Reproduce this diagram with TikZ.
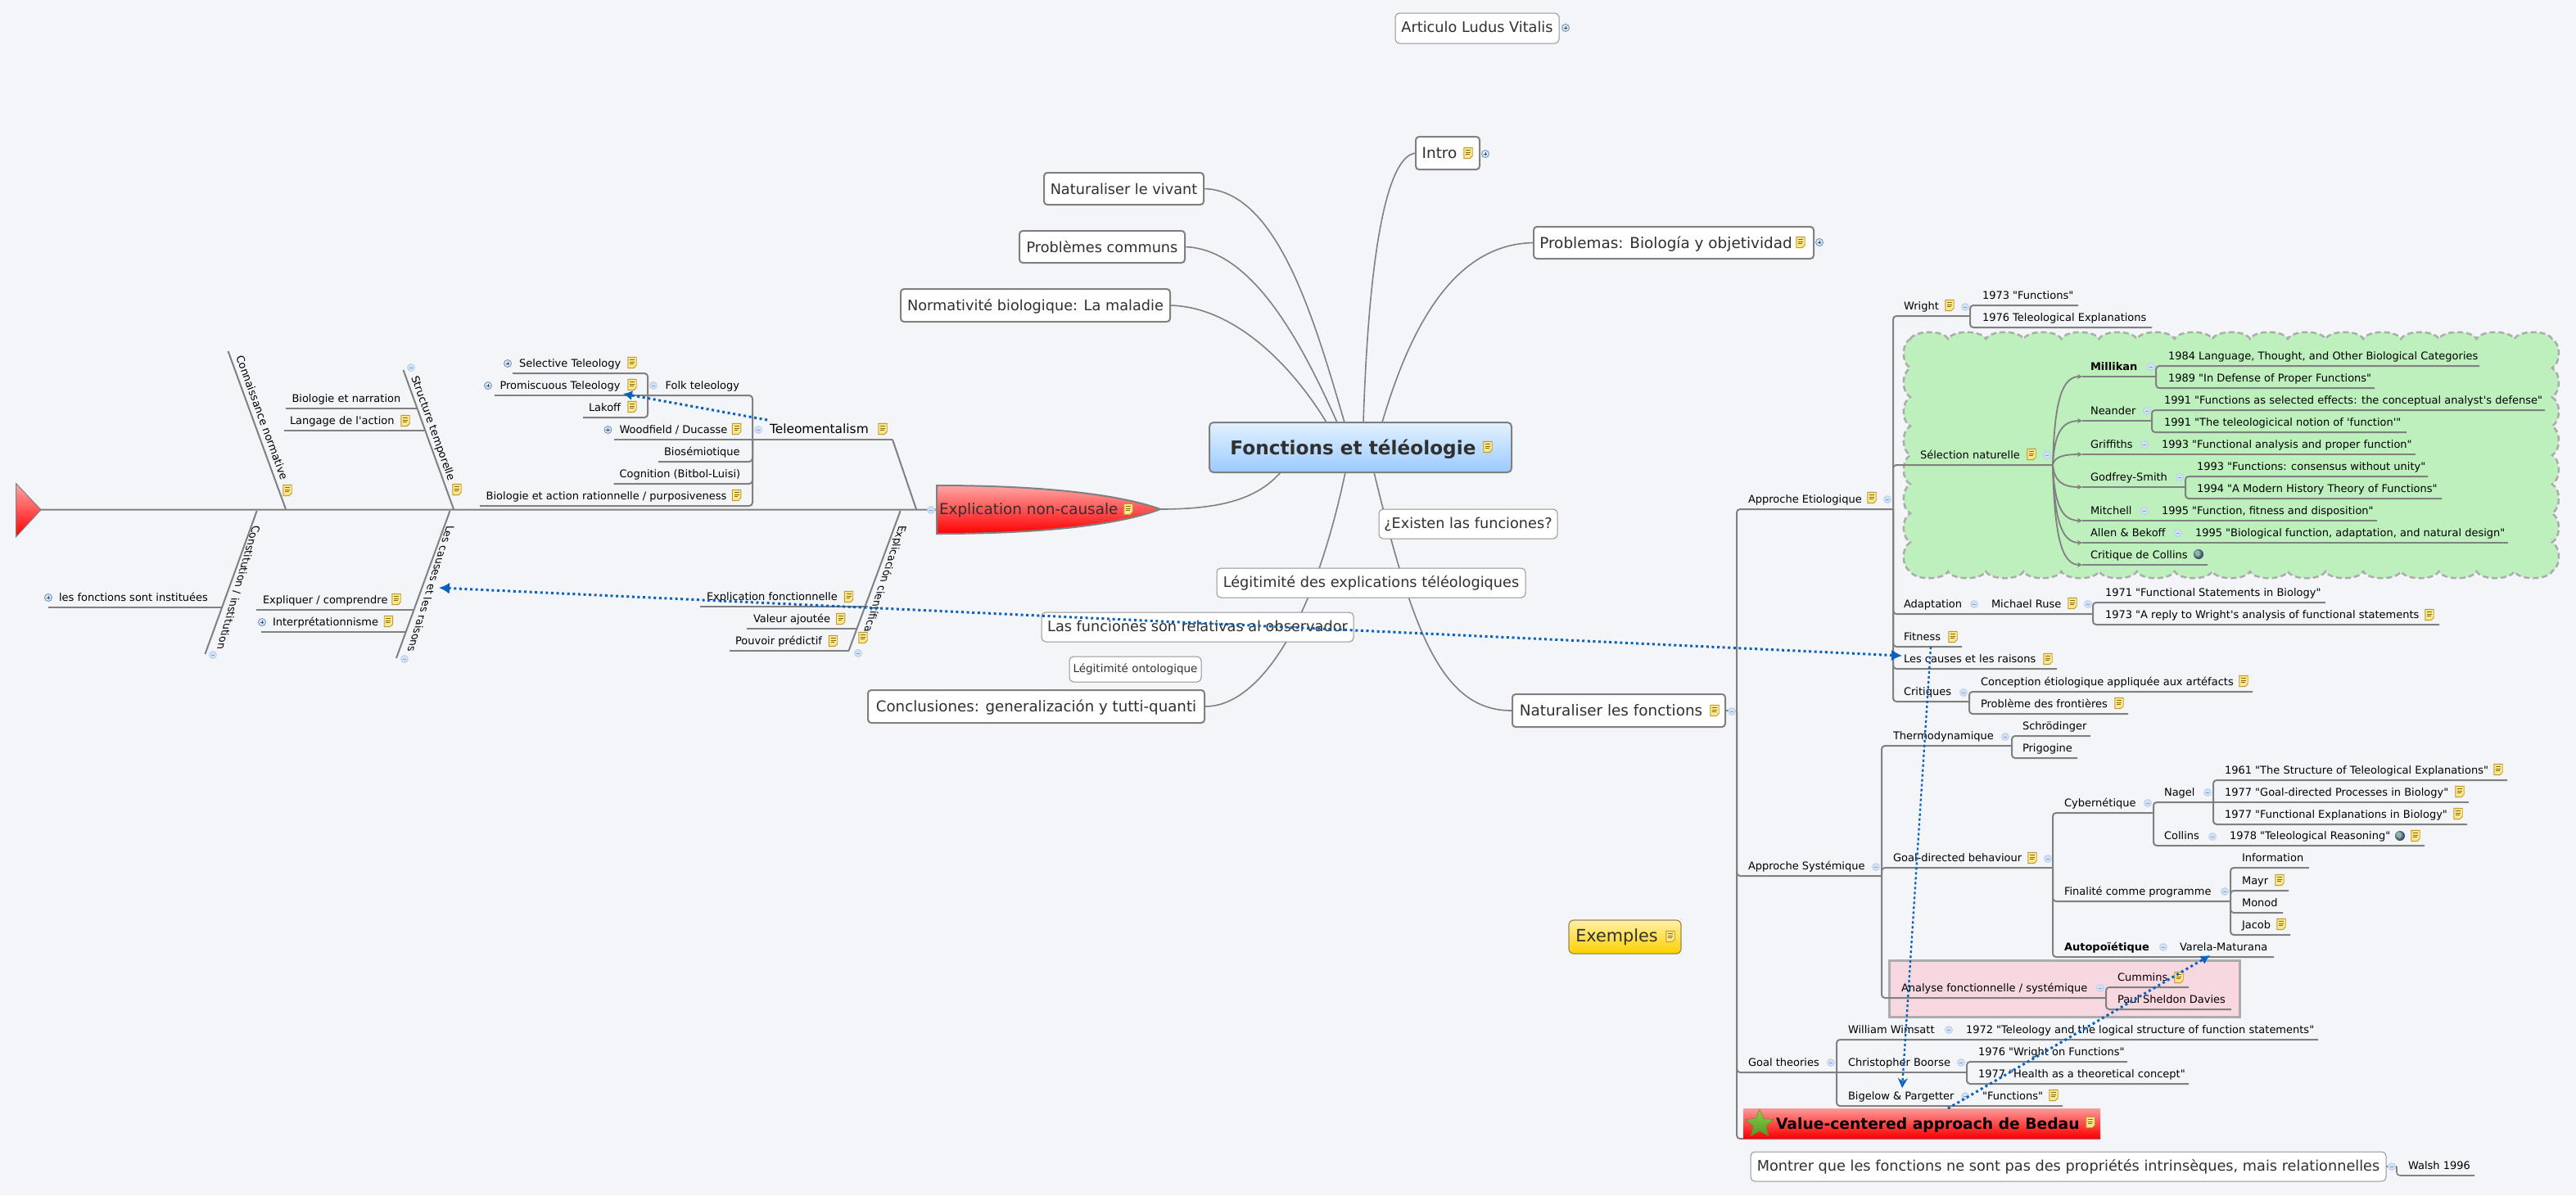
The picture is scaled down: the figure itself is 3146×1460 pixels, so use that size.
\documentclass[tikz,border=0pt]{standalone}
\usepackage{fontspec}
\newfontfamily\djv{DejaVu Sans}
\usetikzlibrary{arrows.meta,shapes.geometric}
\definecolor{bgc}{HTML}{F3F5F9}
\definecolor{wirec}{HTML}{808080}
\definecolor{relc}{HTML}{0A62BE}
\definecolor{txtc}{HTML}{303030}
\definecolor{notef}{HTML}{FFE88C}
\definecolor{noted}{HTML}{C09A30}
\definecolor{notel}{HTML}{8A6A10}
\definecolor{minf}{HTML}{D2E2F6}
\definecolor{mind}{HTML}{B8CFEA}
\definecolor{minl}{HTML}{7FA0C8}
\definecolor{plf}{HTML}{DCE8F5}
\definecolor{pld}{HTML}{6F94BE}
\definecolor{pll}{HTML}{2F4A70}
\definecolor{centop}{HTML}{E2F1FF}
\definecolor{cenbot}{HTML}{9CCAFF}
\definecolor{goldtop}{HTML}{FFF0A8}
\definecolor{goldbot}{HTML}{FFD000}
\definecolor{goldd}{HTML}{9A8A50}
\definecolor{startop}{HTML}{96CC44}
\definecolor{starbot}{HTML}{4C9A2A}
\definecolor{cloudc}{HTML}{BEF0BE}
\definecolor{pinkc}{HTML}{F8D8E0}
\definecolor{globec}{HTML}{7C9CC0}
\pgfdeclarelayer{bgl}
\pgfdeclarelayer{wires}
\pgfsetlayers{bgl,wires,main}
\newcommand\fsz[1]{\djv\fontsize{#1}{#1}\selectfont}
\tikzset{
  lbl/.style={anchor=base west,inner sep=0pt,outer sep=0pt,font=\fsz{13},text=black},
  wire/.style={draw=wirec,line width=2pt},
  thinwire/.style={draw=wirec,line width=1.6pt},
  boxtext/.style={inner sep=0pt,outer sep=0pt,text=txtc,text depth=0pt,align=center},
  lite/.style={boxtext,text height=10.5pt,fill=white,draw=gray!85,line width=1pt,rounded corners=5pt,font=\fsz{17.7}},
  heavy/.style={boxtext,text height=13pt,fill=white,draw=wirec,line width=2pt,rounded corners=4pt,font=\fsz{17.7}},
  centre/.style={boxtext,text height=17pt,top color=centop,bottom color=cenbot,draw=gray,line width=2pt,rounded corners=5pt,font=\bfseries\fsz{23.2}},
  goldbox/.style={boxtext,text height=11pt,top color=goldtop,bottom color=goldbot,draw=goldd,line width=1.2pt,rounded corners=6pt,font=\fsz{20.8}},
  rela/.style={draw=relc,line width=3pt,dash pattern=on 3pt off 3.6pt},
  relb/.style={draw=relc,line width=2.3pt,dash pattern=on 3pt off 3pt},
  notei/.pic={
    \path[fill=notef,draw=noted,line width=.9pt] (-5.2,-6.6) -- (5.2,-6.6) -- (5.2,3.4) -- (2,6.6) -- (-5.2,6.6) -- cycle;
    \draw[notel,line width=.7pt] (-3,-3.6) -- (3,-3.6) (-3,-1) -- (3,-1) (-3,1.6) -- (1.6,1.6);
  },
  minusi/.pic={
    \path[fill=minf,draw=mind,line width=.8pt] (0,0) circle[radius=4.5];
    \draw[minl,line width=.8pt] (-2.2,0) -- (2.2,0);
  },
  plusi/.pic={
    \path[fill=plf,draw=pld,line width=.9pt] (0,0) circle[radius=4.5];
    \draw[pll,line width=.8pt] (-2.2,0) -- (2.2,0) (0,-2.2) -- (0,2.2);
  },
  globei/.pic={
    \shade[ball color=globec] (0,0) circle[radius=6];
    \fill[green!50!black!50] (-3.5,-2) -- (0,-3.5) -- (1.5,1) -- (-1,3.5) -- cycle;
  },
}
\newcommand\nt[2]{\pic at (#1,#2) {notei};}
\newcommand\mn[2]{\pic at (#1,#2) {minusi};}
\newcommand\pl[2]{\pic at (#1,#2) {plusi};}
\newcommand\gl[2]{\pic at (#1,#2) {globei};}
\newcommand\tp[6]{%
  \coordinate (#1-l) at (#2,#4);
  \coordinate (#1-r) at (#3,#4);
  \pgfmathsetmacro\tpb{#4-8}
  \node[lbl] (#1) at (#5,\tpb) {#6};}
\newcommand\ul[1]{\begin{pgfonlayer}{wires}\draw[wire] (#1-l) -- (#1-r);\end{pgfonlayer}}
\newcommand\conn[2]{\begin{pgfonlayer}{wires}\draw[wire,rounded corners=4pt] (#1-r) |- (#2-r);\end{pgfonlayer}}
\newcommand\connl[2]{\begin{pgfonlayer}{wires}\draw[wire,rounded corners=4pt] (#1-l) |- (#2-l);\end{pgfonlayer}}
\newcommand\bx[7]{%
  \pgfmathsetmacro\bxcx{(#3+#5)/2}
  \pgfmathsetmacro\bxcy{(#4+#6)/2}
  \pgfmathsetmacro\bxw{#5-#3}
  \pgfmathsetmacro\bxh{#6-#4}
  \node[#2,minimum width=\bxw pt,minimum height=\bxh pt] (#1) at (\bxcx,\bxcy) {#7};}
% slanted bone: name, line x1 y1 x2 y2, text start x y, slope dx/dy of the text, text
\newcommand\boneup[9]{%
  \coordinate (#1-a) at (#2,#3);
  \coordinate (#1-b) at (#4,#5);
  \begin{pgfonlayer}{wires}\draw[wire] (#1-a) -- (#1-b);\end{pgfonlayer}
  \pgfmathsetmacro\blen{veclen(#8,1)}
  \pgfmathsetmacro\ba{#8/\blen}
  \pgfmathsetmacro\bb{-1/\blen}
  \pgfmathsetmacro\bc{-\bb}
  \begin{scope}[shift={(#6,#7)},cm={\ba,\bb,\bc,\ba,(0,0)}]
    \node[lbl,transform shape] (#1) at (0,0) {#9};
  \end{scope}}
\newcommand\bonedn[9]{%
  \coordinate (#1-a) at (#2,#3);
  \coordinate (#1-b) at (#4,#5);
  \begin{pgfonlayer}{wires}\draw[wire] (#1-a) -- (#1-b);\end{pgfonlayer}
  \pgfmathsetmacro\blen{veclen(#8,1)}
  \pgfmathsetmacro\ba{-#8/\blen}
  \pgfmathsetmacro\bb{-1/\blen}
  \begin{scope}[shift={(#6,#7)},cm={\ba,\bb,1,0,(0,0)}]
    \node[lbl,transform shape] (#1) at (0,0) {#9};
  \end{scope}}
\begin{document}
\begin{tikzpicture}[x=1pt,y=-1pt]
\useasboundingbox (0,0) rectangle (3146,1460);
\begin{pgfonlayer}{bgl}
\fill[bgc] (0,0) rectangle (3146,1460);
% cloud
\draw[fill=cloudc,draw=gray!65,line width=2.5pt,dash pattern=on 7pt off 4pt]
  (2333,414)
  \foreach \i in {1,...,17}{ .. controls +(6,-11) and +(-6,-11) .. ++(46.1,0)}
  \foreach \i in {1,...,8}{ .. controls +(11,6) and +(11,-6) .. ++(0,35.5)}
  \foreach \i in {1,...,17}{ .. controls +(-6,11) and +(6,11) .. ++(-46.1,0)}
  \foreach \i in {1,...,8}{ .. controls +(-11,-6) and +(-11,6) .. ++(0,-35.5)}
  -- cycle;
% pink
\draw[fill=pinkc,draw=gray!65,line width=3pt] (2307,1173) rectangle (2735,1242);
\end{pgfonlayer}

% ---------- central and boxes
\bx{cen}{centre}{1477}{516}{1846}{577}{Fonctions et téléologie\hspace{18pt}}
\nt{1817}{546}
\bx{art}{lite}{1704}{16}{1904}{53}{Articulo Ludus Vitalis}
\pl{1912}{34}
\bx{intro}{heavy,font=\fsz{18.4}}{1729}{167}{1807}{207}{Intro\hspace{20pt}}
\nt{1793}{187} \pl{1814}{188}
\bx{natv}{heavy}{1275}{211}{1470}{250}{Naturaliser le vivant}
\bx{prob}{heavy}{1245}{282}{1447}{321}{Problèmes communs}
\bx{norm}{heavy}{1100}{353}{1429}{393}{Normativité biologique: La maladie}
\bx{pbl}{heavy,font=\fsz{18.4}}{1873}{277}{2215}{316}{Problemas: Biología y objetividad\hspace{19pt}}
\nt{2199}{296} \pl{2222}{296}
\bx{exi}{lite}{1684}{622}{1902}{658}{¿Existen las funciones?}
\bx{leg}{lite}{1486}{694}{1863}{730}{Légitimité des explications téléologiques}
\bx{las}{lite}{1272}{748}{1653}{784}{Las funciones son relativas al observador}
\bx{lego}{lite,text height=8pt,font=\fsz{13.5}}{1306}{802}{1467}{833}{Légitimité ontologique}
\bx{conc}{heavy,font=\fsz{18.2}}{1060}{843}{1471}{883}{Conclusiones: generalización y tutti-quanti}
\bx{nat}{heavy,font=\fsz{18.4}}{1847}{848}{2107}{888}{Naturaliser les fonctions\hspace{19pt}}
\nt{2094}{868} \mn{2115}{869}
\bx{exem}{goldbox}{1916}{1124}{2053}{1165}{Exemples\hspace{20pt}}
\nt{2040}{1144}
\bx{mont}{lite}{2138}{1407}{2914}{1443}{Montrer que les fonctions ne sont pas des propriétés intrinsèques, mais relationnelles}

% Explication non-causale
\path[draw=gray,line width=2pt,top color=red!35!white,bottom color=red]
  (1144,593) .. controls (1280,593) and (1370,605) .. (1417,622)
  .. controls (1370,640) and (1280,652) .. (1144,652) -- cycle;
\coordinate (nonc-tip) at (1417,622);
\coordinate (nonc-l) at (1144,622.5);
\node[lbl,font=\fsz{18.4},text=txtc] (nonc) at (1147,628) {Explication non-causale};
\nt{1378}{622} \mn{1137}{623}

% central curves
\begin{pgfonlayer}{wires}
\coordinate (cen-a) at (1665,516); \coordinate (cen-b) at (1688,516); \coordinate (cen-c) at (1642,516);
\coordinate (cen-d) at (1633,516); \coordinate (cen-e) at (1620,516); \coordinate (cen-f) at (1564,577);
\coordinate (cen-g) at (1678,577); \coordinate (cen-h) at (1643,577);
\draw[thinwire] (intro.west) .. controls (1695,190) and (1672,300) .. (cen-a);
\draw[thinwire] (pbl.west) .. controls (1780,298) and (1725,390) .. (cen-b);
\draw[thinwire] (natv.east) .. controls (1560,232) and (1605,390) .. (cen-c);
\draw[thinwire] (prob.east) .. controls (1530,304) and (1590,420) .. (cen-d);
\draw[thinwire] (norm.east) .. controls (1510,375) and (1580,450) .. (cen-e);
\draw[thinwire] (nonc-tip) .. controls (1490,622) and (1535,610) .. (cen-f);
\draw[thinwire] (cen-g) .. controls (1725,770) and (1760,869) .. (nat.west);
\draw[thinwire] (cen-h) .. controls (1600,780) and (1530,864) .. (conc.east);
\end{pgfonlayer}

% ---------- right tree
\coordinate (nat-r) at (2121,869);
\begin{pgfonlayer}{wires}\draw[wire] (nat.east) -- (nat-r);\end{pgfonlayer}
\tp{ae}{2121}{2312}{622}{2135}{Approche Etiologique} \nt{2286}{608} \mn{2305}{610}
\tp{as}{2121}{2298}{1070}{2135}{Approche Systémique} \mn{2291}{1059}
\tp{gt}{2121}{2243}{1310}{2135}{Goal theories} \mn{2236}{1298}
\conn{nat}{ae} \conn{nat}{as} \conn{nat}{gt}

\tp{wr}{2312}{2406}{386}{2325}{Wright} \nt{2381}{373} \mn{2400}{375}
\tp{wa}{2407}{2538}{373}{2421}{1973 "Functions"}
\tp{wb}{2407}{2628}{400}{2421}{1976 Teleological Explanations}
\conn{wr}{wa} \conn{wr}{wb} \conn{ae}{wr}

\tp{sn}{2312}{2507}{568}{2345}{Sélection naturelle} \nt{2481}{555} \mn{2500}{556}
\conn{ae}{sn}
\tp{mi}{2543}{2633}{460}{2553}{\bfseries Millikan} \mn{2627}{448}
\tp{ma}{2634}{3028}{447}{2648}{1984 Language, Thought, and Other Biological Categories}
\tp{mb}{2634}{2900}{474}{2648}{1989 "In Defense of Proper Functions"}
\conn{mi}{ma} \conn{mi}{mb} \ul{mi}
\tp{ne}{2543}{2628}{514}{2553}{Neander} \mn{2622}{502}
\tp{na}{2628}{3108}{501}{2643}{1991 "Functions as selected effects: the conceptual analyst's defense"}
\tp{nb}{2628}{2939}{528}{2643}{1991 "The teleologicical notion of 'function'"}
\conn{ne}{na} \conn{ne}{nb} \ul{ne}
\tp{gr}{2543}{2950}{555}{2553}{Griffiths} \mn{2619}{543}
\node[lbl] (gra) at (2640,547) {1993 "Functional analysis and proper function"};
\ul{gr}
\tp{go}{2543}{2669}{595}{2553}{Godfrey-Smith} \mn{2662}{583}
\tp{goa}{2669}{2965}{582}{2683}{1993 "Functions: consensus without unity"}
\tp{gob}{2669}{2982}{609}{2683}{1994 "A Modern History Theory of Functions"}
\conn{go}{goa} \conn{go}{gob} \ul{go}
\tp{mt}{2543}{2903}{636}{2553}{Mitchell} \mn{2619}{624}
\node[lbl] (mta) at (2640,628) {1995 "Function, fitness and disposition"};
\ul{mt}
\tp{al}{2543}{3063}{663}{2553}{Allen \& Bekoff} \mn{2660}{651}
\node[lbl] (ala) at (2681,655) {1995 "Biological function, adaptation, and natural design"};
\ul{al}
\tp{co}{2543}{2696}{690}{2553}{Critique de Collins} \gl{2685}{677}
\ul{co}
\begin{pgfonlayer}{wires}
\foreach \c/\y in {mi/460,ne/514,gr/555,go/595,mt/636,al/663,co/690}{
  \pgfmathsetmacro\cy{568+(\y-568)*.72}
  \draw[wire,line width=1.8pt,-{Stealth[length=6pt,width=6pt]}] (sn-r) .. controls (2509,\cy) and (2518,\y) .. (\c-l);
}
\end{pgfonlayer}

\tp{ad}{2312}{2556}{750}{2325}{Adaptation} \mn{2411}{738}
\node[lbl] (ru) at (2432,742) {Michael Ruse}; \nt{2531}{737} \mn{2550}{738}
\tp{ra}{2557}{2840}{736}{2571}{1971 "Functional Statements in Biology"}
\tp{rb}{2557}{2979}{763}{2571}{1973 "A reply to Wright's analysis of functional statements} \nt{2967}{751}
\conn{ad}{ra} \conn{ad}{rb} \conn{ae}{ad}
\tp{fi}{2312}{2396}{790}{2325}{Fitness} \nt{2385}{778}
\tp{lc}{2312}{2512}{817}{2325}{Les causes et les raisons} \nt{2501}{805}
\tp{cr}{2312}{2405}{857}{2325}{Critiques} \mn{2398}{846}
\conn{ae}{fi} \conn{ae}{lc} \conn{ae}{cr}
\tp{ca}{2405}{2751}{845}{2419}{Conception étiologique appliquée aux artéfacts} \nt{2740}{832}
\tp{cb}{2405}{2599}{872}{2419}{Problème des frontières} \nt{2588}{859}
\conn{cr}{ca} \conn{cr}{cb}

\tp{th}{2298}{2457}{911}{2312}{Thermodynamique} \mn{2449}{900}
\tp{tha}{2457}{2553}{899}{2470}{Schrödinger}
\tp{thb}{2457}{2537}{926}{2470}{Prigogine}
\conn{th}{tha} \conn{th}{thb}
\tp{gd}{2298}{2507}{1060}{2312}{Goal-directed behaviour} \nt{2482}{1048} \mn{2501}{1049}
\tp{an}{2298}{2572}{1219}{2322}{Analyse fonctionnelle / systémique} \mn{2565}{1207}
\conn{as}{th} \conn{as}{gd} \conn{as}{an}
\tp{cu}{2572}{2673}{1206}{2586}{Cummins} \nt{2661}{1194}
\tp{pa}{2572}{2725}{1233}{2586}{Paul Sheldon Davies}
\conn{an}{cu} \conn{an}{pa}
\tp{cy}{2507}{2630}{993}{2521}{Cybernétique} \mn{2623}{981}
\tp{fp}{2507}{2724}{1101}{2521}{Finalité comme programme} \mn{2717}{1089}
\tp{au}{2507}{2777}{1169}{2521}{\bfseries Autopoïétique} \mn{2642}{1157}
\node[lbl] (va) at (2662,1161) {Varela-Maturana};
\conn{gd}{cy} \conn{gd}{fp} \conn{gd}{au}
\tp{nag}{2630}{2703}{980}{2643}{Nagel} \mn{2696}{968}
\tp{col}{2630}{2961}{1033}{2643}{Collins} \mn{2702}{1022}
\node[lbl] (cola) at (2723,1025) {1978 "Teleological Reasoning"}; \gl{2931}{1021} \nt{2950}{1021}
\conn{cy}{nag} \conn{cy}{col}
\tp{n61}{2703}{3062}{953}{2717}{1961 "The Structure of Teleological Explanations"} \nt{3051}{940}
\tp{n77a}{2703}{3015}{980}{2717}{1977 "Goal-directed Processes in Biology"} \nt{3004}{967}
\tp{n77b}{2703}{3013}{1007}{2717}{1977 "Functional Explanations in Biology"} \nt{3002}{994}
\conn{nag}{n61} \conn{nag}{n77b} \ul{n77a}
\tp{inf}{2724}{2820}{1060}{2738}{Information}
\tp{may}{2724}{2795}{1088}{2738}{Mayr} \nt{2784}{1075}
\tp{mon}{2724}{2788}{1115}{2738}{Monod}
\tp{jac}{2724}{2797}{1142}{2738}{Jacob} \nt{2786}{1129}
\conn{fp}{inf} \conn{fp}{may} \conn{fp}{mon} \conn{fp}{jac}

\tp{wi}{2243}{2831}{1270}{2257}{William Wimsatt} \mn{2380}{1258}
\node[lbl] (wia) at (2401,1262) {1972 "Teleology and the logical structure of function statements"};
\tp{bo}{2243}{2402}{1310}{2257}{Christopher Boorse} \mn{2395}{1298}
\tp{big}{2243}{2519}{1351}{2257}{Bigelow \& Pargetter} \mn{2400}{1339}
\node[lbl] (biga) at (2421,1343) {"Functions"}; \nt{2508}{1338}
\conn{gt}{wi} \conn{gt}{big} \ul{bo}
\tp{ba}{2402}{2598}{1297}{2416}{1976 "Wright on Functions"}
\tp{bb}{2402}{2673}{1324}{2416}{1977 "Health as a theoretical concept"}
\conn{bo}{ba} \conn{bo}{bb}

% Value-centered
\path[top color=red!40!white,bottom color=red] (2129,1354) rectangle (2565,1390);
\coordinate (val-r) at (2565,1391);
\conn{nat}{val}
\node[star,star points=5,star point ratio=2.2,minimum size=36pt,inner sep=0pt,top color=startop,bottom color=starbot,draw=starbot,line width=.5pt] (star) at (2149,1373) {};
\node[lbl,font=\bfseries\fsz{18.7}] (val) at (2169,1379) {Value-centered approach de Bedau};
\nt{2553}{1371}

\mn{2921}{1425}
\coordinate (mont-r) at (2927,1425);
\tp{wal}{2927}{3022}{1436}{2941}{Walsh 1996}
\begin{pgfonlayer}{wires}\draw[thinwire] (mont.east) -- (mont-r);\draw[thinwire,rounded corners=4pt] (mont-r) |- (wal-r);\end{pgfonlayer}

% ---------- fishbone
\path[draw=gray,line width=1pt,top color=red!35!white,bottom color=red] (19.6,590.7) -- (50,622.7) -- (19.6,655.7) -- cycle;
\coordinate (sp-a) at (50,622.7);
\begin{pgfonlayer}{wires}\draw[wire] (sp-a) -- (nonc-l);\end{pgfonlayer}

\boneup{kn}{278.6}{429}{349}{622}{288}{436}{.365}{Connaissance normative}
\nt{351}{599}
\boneup{st}{492.6}{452}{554}{622}{502}{461}{.36}{Structure temporelle}
\nt{558}{598} \mn{502}{449}
\bonedn{ci}{313.7}{624}{250.5}{799}{308.5}{642}{.29}{Constitution / institution}
\mn{260}{800}
\bonedn{lr}{549.5}{624}{484}{804}{545.5}{642}{.313}{Les causes et les raisons}
\mn{494}{805}
\bonedn{ec}{1099.6}{624}{1036.5}{795}{1098}{642}{.333}{Explicación científica}
\nt{1054}{779} \mn{1048}{798}

\tp{te}{919}{1090}{537}{940}{\fsz{15.4}Teleomentalism} \nt{1078}{524} \mn{926}{525}
\ul{te}
\coordinate (te-s) at (1119,622);
\begin{pgfonlayer}{wires}\draw[wire] (te-r) -- (te-s);\end{pgfonlayer}
\tp{fo}{791}{912}{483}{812.6}{Folk teleology} \mn{798}{471}
\connl{te}{fo}
\tp{wo}{749.5}{919}{537}{756.5}{Woodfield / Ducasse} \nt{899.6}{524} \pl{742.5}{525} \ul{wo}
\tp{bs}{804}{912}{564}{811}{Biosémiotique} \connl{te}{bs}
\tp{cg}{749.5}{912}{591}{756.5}{Cognition (Bitbol-Luisi)} \connl{te}{cg}
\tp{ba2}{586}{912}{618}{593.7}{Biologie et action rationnelle / purposiveness} \nt{899.6}{605} \connl{te}{ba2}
\tp{se}{626}{785}{456}{634}{Selective Teleology} \nt{772}{443} \pl{620}{444}
\tp{pr}{603.5}{791}{483}{610.5}{Promiscuous Teleology} \nt{772}{470} \pl{596}{471} \ul{pr}
\tp{la}{712}{785}{510}{719}{Lakoff} \nt{772}{497}
\connl{fo}{se} \connl{fo}{la}

\tp{bn}{349}{509}{499}{356.5}{Biologie et narration} \ul{bn}
\tp{ld}{347}{518}{526}{354}{Langage de l'action} \nt{495}{514} \ul{ld}
\tp{ef}{855.4}{1060}{741}{863}{Explication fonctionnelle} \nt{1036.5}{729} \ul{ef}
\tp{vj}{912}{1047}{768}{920}{Valeur ajoutée} \nt{1026.7}{756} \ul{vj}
\tp{pv}{891}{1037}{795}{898}{Pouvoir prédictif} \nt{1017.5}{783} \ul{pv}
\tp{si}{59}{271}{742}{72}{les fonctions sont instituées} \pl{59}{730} \ul{si}
\tp{ex}{313}{505}{745}{321}{Expliquer / comprendre} \nt{484}{732} \ul{ex}
\tp{ip}{319}{496}{772}{333}{Interprétationnisme} \nt{474.4}{759} \pl{320}{760} \ul{ip}

% ---------- relationships
\coordinate (r1a) at (536,718); \coordinate (r1b) at (2323,801);
\coordinate (r2a) at (937,513); \coordinate (r2b) at (761,481);
\coordinate (r3a) at (2358,790); \coordinate (r3b) at (2323,1329);
\coordinate (r4a) at (2379,1354); \coordinate (r4b) at (2699,1167);
\draw[rela,{Latex[length=13pt,width=14pt]}-{Latex[length=13pt,width=14pt]}] (r1a) -- (r1b);
\draw[rela,-{Latex[length=11pt,width=12pt]}] (r2a) -- (r2b);
\draw[relb,-{Stealth[length=12pt,width=12pt,open]}] (r3a) -- (r3b);
\draw[rela,-{Latex[length=11pt,width=12pt]}] (r4a) -- (r4b);
\end{tikzpicture}
\end{document}
